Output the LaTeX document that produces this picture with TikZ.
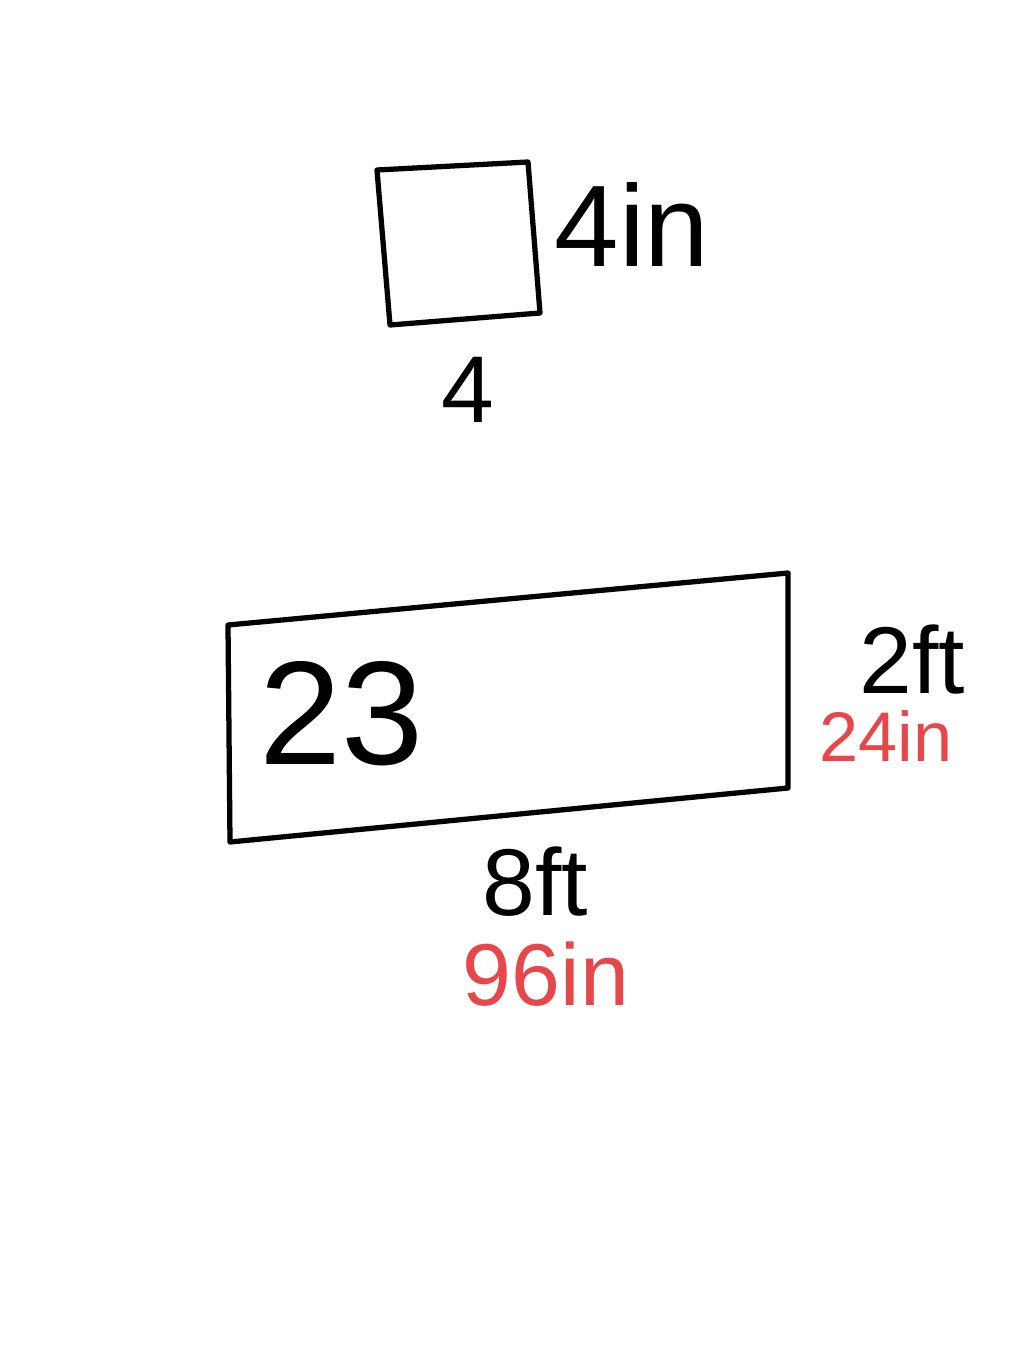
\documentclass[tikz,border=0pt]{standalone}
\usepackage{fontspec}
\setmainfont{Liberation Sans}
\definecolor{penred}{HTML}{E8474A}
\begin{document}
\begin{tikzpicture}[x=0.02cm,y=-0.02cm,line join=round,line cap=round]
	%==Canvas
	\useasboundingbox[fill=white] (0,0) rectangle (1024,1366);
	\tikzset{ink/.style={line width=3pt,black},
		lbl/.style={inner sep=0pt,anchor=center}}
	%==Small square
	\draw[ink] (377,170)coordinate(S1)--(528,162)coordinate(S2)--(540,313)coordinate(S3)--(390,325)coordinate(S4)--cycle;
	\node[lbl,font=\fontsize{66}{66}\selectfont] (sqside) at (632,224) {4in};
	\node[lbl,font=\fontsize{54}{54}\selectfont] (sqbase) at (468,390) {4};
	%==Big rectangle
	\draw[ink] (228,625)coordinate(R1)--(788,573)coordinate(R2)--(788,788)coordinate(R3)--(230,842)coordinate(R4)--cycle;
	\node[lbl,font=\fontsize{84}{84}\selectfont] (area) at (342,714) {23};
	\node[lbl,font=\fontsize{54}{54}\selectfont] (rside) at (912,660) {2ft};
	\node[lbl,font=\fontsize{40}{40}\selectfont,text=penred] (rsidein) at (886,736) {24in};
	\node[lbl,font=\fontsize{54}{54}\selectfont] (rbase) at (535,882) {8ft};
	\node[lbl,font=\fontsize{50}{50}\selectfont,text=penred] (rbasein) at (546,974) {96in};
\end{tikzpicture}
\end{document}
